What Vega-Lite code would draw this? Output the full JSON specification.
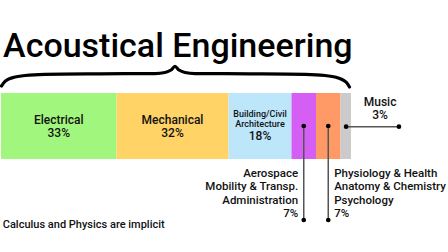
{
  "$schema": "https://vega.github.io/schema/vega-lite/v6.json",
  "width": 448,
  "height": 252,
  "autosize": "none",
  "padding": 0,
  "background": "white",
  "config": {"view": {"stroke": null}, "text": {"font": "Roboto", "color": "#111111"}},
  "datasets": {
    "segs": [
      {"cat": "Electrical", "start": 0, "end": 33},
      {"cat": "Mechanical", "start": 33, "end": 65},
      {"cat": "Building/Civil Architecture", "start": 65, "end": 83},
      {"cat": "Aerospace", "start": 83, "end": 90},
      {"cat": "Physiology", "start": 90, "end": 97},
      {"cat": "Music", "start": 97, "end": 100}
    ],
    "brace": [
      {"x": 0.143, "y": 1.106}, {"x": 0.857, "y": 1.159}, {"x": 2.0, "y": 1.205},
      {"x": 3.714, "y": 1.238}, {"x": 6.857, "y": 1.265}, {"x": 12.571, "y": 1.283},
      {"x": 28.286, "y": 1.291}, {"x": 44.0, "y": 1.295}, {"x": 46.857, "y": 1.311},
      {"x": 48.571, "y": 1.348}, {"x": 49.714, "y": 1.402}, {"x": 50.857, "y": 1.348},
      {"x": 52.571, "y": 1.311}, {"x": 55.429, "y": 1.295}, {"x": 71.143, "y": 1.291},
      {"x": 86.857, "y": 1.283}, {"x": 92.571, "y": 1.265}, {"x": 95.714, "y": 1.238},
      {"x": 97.429, "y": 1.205}, {"x": 98.714, "y": 1.159}, {"x": 99.571, "y": 1.091}
    ],
    "center": [
      {"t": "Electrical\n33%", "x": 16.5, "y": 0.53},
      {"t": "Mechanical\n32%", "x": 49, "y": 0.53},
      {"t": "18%", "x": 74, "y": 0.295},
      {"t": "Music\n3%", "x": 108.3, "y": 0.808}
    ],
    "small": [{"t": "Building/Civil\nArchitecture", "x": 74, "y": 0.632}],
    "right": [{"t": "Aerospace\nMobility & Transp.\nAdministration\n7%", "x": 84.9, "y": -0.268}],
    "left": [{"t": "Physiology & Health\nAnatomy & Chemistry\nPsychology\n7%", "x": 95.2, "y": -0.268}],
    "note": [{"t": "Calculus and Physics are implicit", "x": 0.5, "y": -1.041}],
    "title": [{"t": "Acoustical Engineering", "x": 0.6, "y": 1.545}],
    "conn": [
      {"x": 86.5, "y": 0.5, "x2": 86.5, "y2": -0.924},
      {"x": 93.5, "y": 0.5, "x2": 93.5, "y2": -0.924},
      {"x": 98.6, "y": 0.49, "x2": 113.7, "y2": 0.49}
    ]
  },
  "layer": [
    {
      "data": {"name": "segs"},
      "mark": {"type": "rect"},
      "encoding": {
        "x": {"field": "start", "type": "quantitative", "scale": {"domain": [-0.2857, 127.714], "nice": false, "zero": false}, "axis": null},
        "x2": {"field": "end"},
        "y": {"datum": 0, "type": "quantitative", "scale": {"domain": [-1.409, 2.409], "nice": false, "zero": false}, "axis": null},
        "y2": {"datum": 1},
        "color": {"field": "cat", "type": "nominal", "legend": null,
          "scale": {"domain": ["Electrical", "Mechanical", "Building/Civil Architecture", "Aerospace", "Physiology", "Music"],
                    "range": ["#a1f77d", "#ffd366", "#bde6fb", "#d55ff5", "#ff9966", "#cbcbcb"]}}
      }
    },
    {
      "data": {"name": "brace"},
      "mark": {"type": "line", "color": "#000000", "strokeWidth": 3.2, "interpolate": "monotone", "strokeCap": "round"},
      "encoding": {
        "x": {"field": "x", "type": "quantitative", "scale": {"domain": [-0.2857, 127.714], "nice": false, "zero": false}, "axis": null},
        "y": {"field": "y", "type": "quantitative", "scale": {"domain": [-1.409, 2.409], "nice": false, "zero": false}, "axis": null}
      }
    },
    {
      "data": {"name": "title"},
      "mark": {"type": "text", "align": "left", "baseline": "alphabetic", "fontSize": 34, "fontWeight": 500, "color": "#000000"},
      "encoding": {
        "x": {"field": "x", "type": "quantitative", "scale": {"domain": [-0.2857, 127.714], "nice": false, "zero": false}, "axis": null},
        "y": {"field": "y", "type": "quantitative", "scale": {"domain": [-1.409, 2.409], "nice": false, "zero": false}, "axis": null},
        "text": {"field": "t"}
      }
    },
    {
      "data": {"name": "center"},
      "mark": {"type": "text", "align": "center", "baseline": "alphabetic", "fontSize": 12, "fontWeight": 500, "lineBreak": "\n", "lineHeight": 13.4},
      "encoding": {
        "x": {"field": "x", "type": "quantitative", "scale": {"domain": [-0.2857, 127.714], "nice": false, "zero": false}, "axis": null},
        "y": {"field": "y", "type": "quantitative", "scale": {"domain": [-1.409, 2.409], "nice": false, "zero": false}, "axis": null},
        "text": {"field": "t"}
      }
    },
    {
      "data": {"name": "small"},
      "mark": {"type": "text", "align": "center", "baseline": "alphabetic", "fontSize": 9, "fontWeight": 500, "lineBreak": "\n", "lineHeight": 10},
      "encoding": {
        "x": {"field": "x", "type": "quantitative", "scale": {"domain": [-0.2857, 127.714], "nice": false, "zero": false}, "axis": null},
        "y": {"field": "y", "type": "quantitative", "scale": {"domain": [-1.409, 2.409], "nice": false, "zero": false}, "axis": null},
        "text": {"field": "t"}
      }
    },
    {
      "data": {"name": "right"},
      "mark": {"type": "text", "align": "right", "baseline": "alphabetic", "fontSize": 11.5, "fontWeight": 500, "lineBreak": "\n", "lineHeight": 13.5},
      "encoding": {
        "x": {"field": "x", "type": "quantitative", "scale": {"domain": [-0.2857, 127.714], "nice": false, "zero": false}, "axis": null},
        "y": {"field": "y", "type": "quantitative", "scale": {"domain": [-1.409, 2.409], "nice": false, "zero": false}, "axis": null},
        "text": {"field": "t"}
      }
    },
    {
      "data": {"name": "left"},
      "mark": {"type": "text", "align": "left", "baseline": "alphabetic", "fontSize": 11.5, "fontWeight": 500, "lineBreak": "\n", "lineHeight": 13.5},
      "encoding": {
        "x": {"field": "x", "type": "quantitative", "scale": {"domain": [-0.2857, 127.714], "nice": false, "zero": false}, "axis": null},
        "y": {"field": "y", "type": "quantitative", "scale": {"domain": [-1.409, 2.409], "nice": false, "zero": false}, "axis": null},
        "text": {"field": "t"}
      }
    },
    {
      "data": {"name": "note"},
      "mark": {"type": "text", "align": "left", "baseline": "alphabetic", "fontSize": 11, "fontWeight": 500},
      "encoding": {
        "x": {"field": "x", "type": "quantitative", "scale": {"domain": [-0.2857, 127.714], "nice": false, "zero": false}, "axis": null},
        "y": {"field": "y", "type": "quantitative", "scale": {"domain": [-1.409, 2.409], "nice": false, "zero": false}, "axis": null},
        "text": {"field": "t"}
      }
    },
    {
      "data": {"name": "conn"},
      "mark": {"type": "rule", "color": "#555555", "strokeWidth": 1.5},
      "encoding": {
        "x": {"field": "x", "type": "quantitative", "scale": {"domain": [-0.2857, 127.714], "nice": false, "zero": false}, "axis": null},
        "y": {"field": "y", "type": "quantitative", "scale": {"domain": [-1.409, 2.409], "nice": false, "zero": false}, "axis": null},
        "x2": {"field": "x2"},
        "y2": {"field": "y2"}
      }
    },
    {
      "data": {"name": "conn"},
      "mark": {"type": "circle", "color": "#000000", "opacity": 1, "size": 22},
      "encoding": {
        "x": {"field": "x", "type": "quantitative", "scale": {"domain": [-0.2857, 127.714], "nice": false, "zero": false}, "axis": null},
        "y": {"field": "y", "type": "quantitative", "scale": {"domain": [-1.409, 2.409], "nice": false, "zero": false}, "axis": null}
      }
    },
    {
      "data": {"name": "conn"},
      "mark": {"type": "circle", "color": "#000000", "opacity": 1, "size": 22},
      "encoding": {
        "x": {"field": "x2", "type": "quantitative", "scale": {"domain": [-0.2857, 127.714], "nice": false, "zero": false}, "axis": null},
        "y": {"field": "y2", "type": "quantitative", "scale": {"domain": [-1.409, 2.409], "nice": false, "zero": false}, "axis": null}
      }
    }
  ]
}
